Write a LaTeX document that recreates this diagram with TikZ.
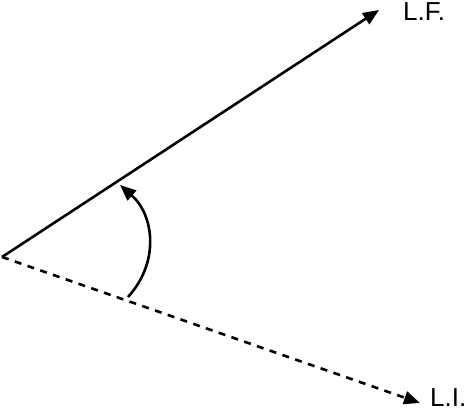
\documentclass[tikz,border=0pt]{standalone}
\usepackage{fontspec}
\setmainfont{Liberation Sans}
\usetikzlibrary{arrows.meta}
\begin{document}
\begin{tikzpicture}[x=1pt,y=-1pt,
  ray/.style={line width=2.6pt,-{Triangle[length=16pt,width=13pt]}},
  lbl/.style={font=\fontsize{26}{28}\selectfont,inner sep=0pt,anchor=west}]
\useasboundingbox (0,0) rectangle (470,409);
\coordinate (O) at (2,257);
\coordinate (F) at (379,10);
\coordinate (I) at (420,403);
\coordinate (A) at (128,297);
\coordinate (B) at (120,185);
\draw[ray] (O) -- (F);
\draw[ray,dash pattern=on 7pt off 6.5pt] (O) -- (I);
\draw[ray] (A) .. controls (160,262) and (154,215) .. (B);
\node[lbl] (lf) at (403,11.5) {L.F.};
\node[lbl] (li) at (430,398) {L.I.};
\end{tikzpicture}
\end{document}
